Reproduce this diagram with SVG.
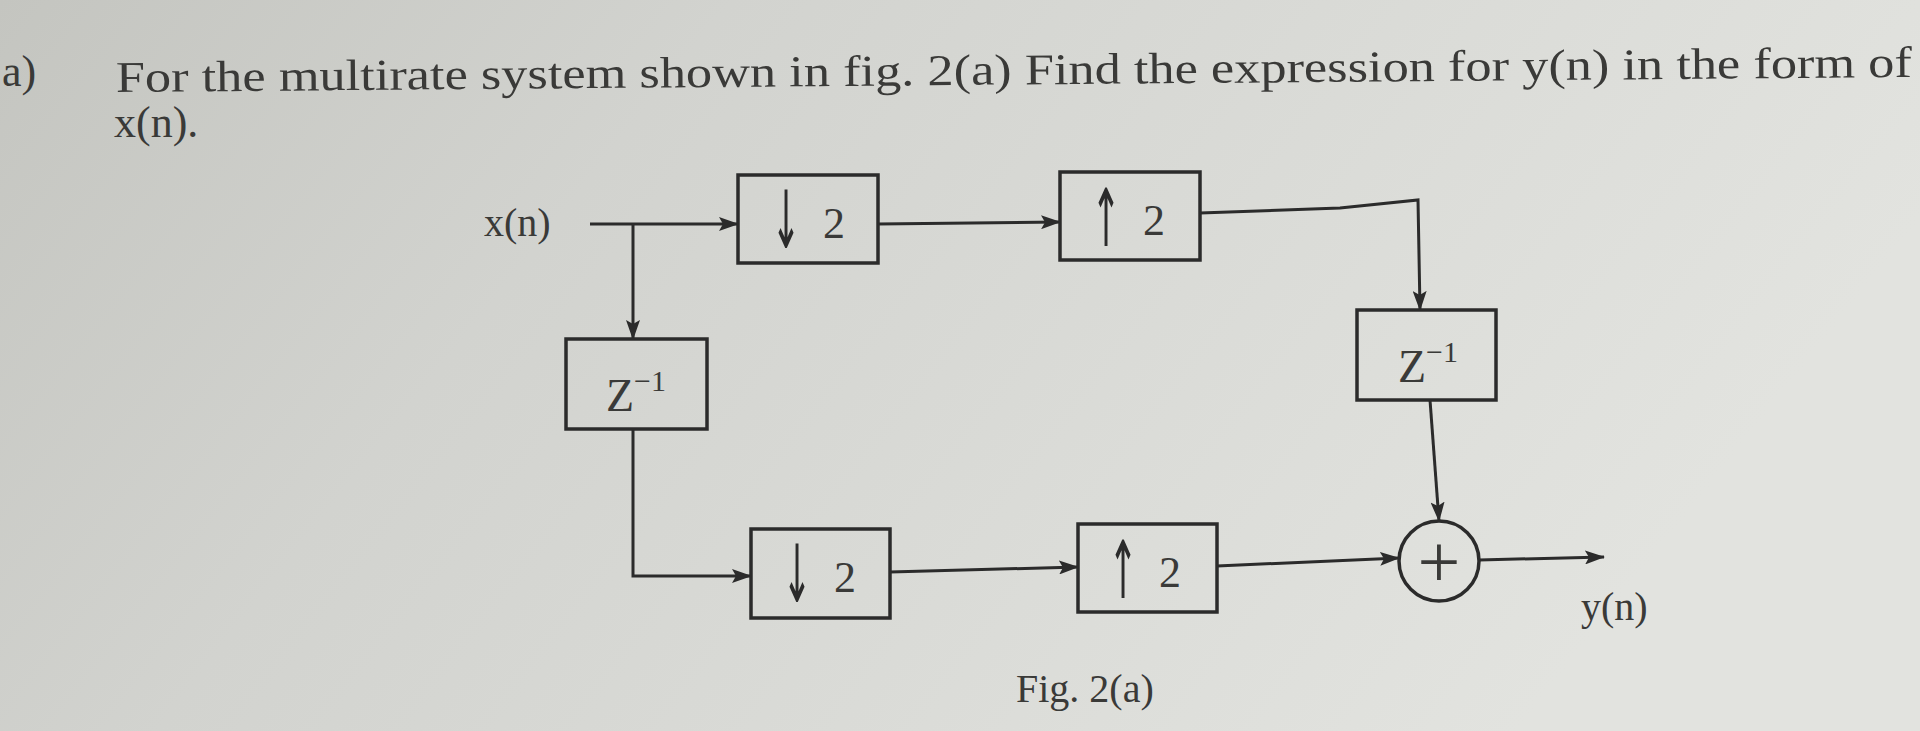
<svg xmlns="http://www.w3.org/2000/svg" width="1920" height="731" viewBox="0 0 1920 731">
<defs>
<linearGradient id="bg" x1="0" y1="0" x2="1" y2="0.3">
<stop offset="0" stop-color="#c4c5c0"/>
<stop offset="0.35" stop-color="#d2d3cf"/>
<stop offset="1" stop-color="#e2e3df"/>
</linearGradient>
<marker id="ah" viewBox="0 0 20 14" refX="19" refY="7" markerWidth="20" markerHeight="14" markerUnits="userSpaceOnUse" orient="auto">
<path d="M0,0 L20,7 L0,14 L4,7 Z" fill="#2b2b2b"/>
</marker>
</defs>
<style>
.t{font-family:"Liberation Serif","Times New Roman",serif;fill:#3a3a38}
.box{fill:none;stroke:#2b2b2b;stroke-width:3.5}
.ln{fill:none;stroke:#2b2b2b;stroke-width:3}
.lbl{font-family:"Liberation Serif","Times New Roman",serif;fill:#3a3a38;font-size:40px}
.num{font-size:44px}
.zz{font-size:46px}
.plus{font-size:76px}
.arr{font-family:"DejaVu Sans","Liberation Serif",sans-serif;fill:#2b2b2b;font-size:64px}
</style>
<rect width="1920" height="731" fill="url(#bg)"/>
<g id="title">
<text class="t" x="2" y="86" font-size="44">a)</text>
<text class="t" x="116" y="92" font-size="44" textLength="1796" lengthAdjust="spacingAndGlyphs" transform="rotate(-0.48 116 92)">For the multirate system shown in fig. 2(a) Find the expression for y(n) in the form of</text>
<text class="t" x="114" y="137" font-size="44">x(n).</text>
</g>
<g id="connectors">
<line class="ln" x1="590" y1="224" x2="738" y2="224" marker-end="url(#ah)"/>
<line class="ln" x1="878" y1="224" x2="1060" y2="222" marker-end="url(#ah)"/>
<path class="ln" d="M1200,213 L1340,208 Q1400,202 1418,200 L1420,310" marker-end="url(#ah)"/>
<line class="ln" x1="1430" y1="400" x2="1439" y2="521" marker-end="url(#ah)"/>
<line class="ln" x1="1479" y1="560" x2="1604" y2="557" marker-end="url(#ah)"/>
<line class="ln" x1="633" y1="224" x2="633" y2="339" marker-end="url(#ah)"/>
<path class="ln" d="M633,429 L633,576 L751,576" marker-end="url(#ah)"/>
<line class="ln" x1="890" y1="572" x2="1078" y2="567" marker-end="url(#ah)"/>
<line class="ln" x1="1217" y1="566" x2="1399" y2="558" marker-end="url(#ah)"/>
</g>
<g id="input">
<text class="lbl" x="484" y="236">x(n)</text>
</g>
<g id="down1">
<rect class="box" x="738" y="175" width="140" height="88"/>
<text class="arr" x="0" y="0" text-anchor="middle" transform="translate(786,248) scale(0.55,1.25)">↓</text>
<text class="lbl num" x="834" y="238" text-anchor="middle">2</text>
</g>
<g id="up1">
<rect class="box" x="1060" y="172" width="140" height="88"/>
<text class="arr" x="0" y="0" text-anchor="middle" transform="translate(1106,246) scale(0.55,1.25)">↑</text>
<text class="lbl num" x="1154" y="235" text-anchor="middle">2</text>
</g>
<g id="delayRight">
<rect class="box" x="1357" y="310" width="139" height="90"/>
<text class="lbl zz" x="1398" y="382">Z<tspan font-size="30" dy="-20">−1</tspan></text>
</g>
<g id="delayLeft">
<rect class="box" x="566" y="339" width="141" height="90"/>
<text class="lbl zz" x="606" y="411">Z<tspan font-size="30" dy="-20">−1</tspan></text>
</g>
<g id="down2">
<rect class="box" x="751" y="529" width="139" height="89"/>
<text class="arr" x="0" y="0" text-anchor="middle" transform="translate(797,602) scale(0.55,1.25)">↓</text>
<text class="lbl num" x="845" y="592" text-anchor="middle">2</text>
</g>
<g id="up2">
<rect class="box" x="1078" y="524" width="139" height="88"/>
<text class="arr" x="0" y="0" text-anchor="middle" transform="translate(1123,598) scale(0.55,1.25)">↑</text>
<text class="lbl num" x="1170" y="587" text-anchor="middle">2</text>
</g>
<g id="adder">
<circle cx="1439" cy="561" r="40" fill="none" stroke="#2b2b2b" stroke-width="3.5"/>
<text class="lbl plus" x="1439" y="587" text-anchor="middle">+</text>
</g>
<g id="output">
<text class="lbl" x="1581" y="620">y(n)</text>
</g>
<g id="caption">
<text class="lbl" x="1016" y="702">Fig. 2(a)</text>
</g>
</svg>
